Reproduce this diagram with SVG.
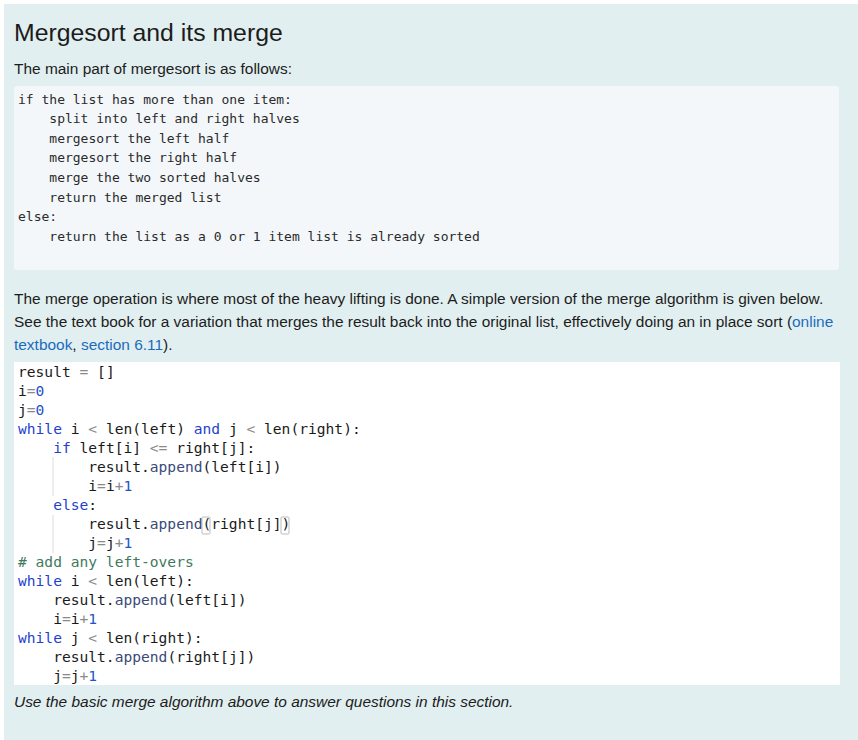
<svg xmlns="http://www.w3.org/2000/svg" width="858" height="740" viewBox="0 0 858 740">
<style>
.t{font-family:"Liberation Sans",Arial,sans-serif;font-size:15.45px;fill:#1c1c1c}
.m{font-family:"DejaVu Sans Mono",monospace;font-size:13px;fill:#2a2a2a;white-space:pre}
.c{font-family:"DejaVu Sans Mono",monospace;font-size:14.6px;fill:#1a1a1a;white-space:pre}
.m text,.c text{white-space:pre}
.k{fill:#1f3fd0}.n{fill:#1f55c8}.o{fill:#8a8a8a}.f{fill:#3a4a78}.g{fill:#3f7a5c}
.a{fill:#1a6bbf}
</style>
<rect x="0" y="0" width="858" height="740" fill="#ffffff"/>
<rect x="4" y="4" width="854" height="736" fill="#e2eff0"/>
<text x="14" y="41" class="t" style="font-size:24.8px">Mergesort and its merge</text>
<text x="14" y="74" class="t">The main part of mergesort is as follows:</text>
<rect x="14" y="86" width="825" height="184" rx="3" fill="#f3f7fa"/>
<g class="m">
<text x="18" y="104">if the list has more than one item:</text>
<text x="18" y="123">    split into left and right halves</text>
<text x="18" y="143">    mergesort the left half</text>
<text x="18" y="162">    mergesort the right half</text>
<text x="18" y="182">    merge the two sorted halves</text>
<text x="18" y="202">    return the merged list</text>
<text x="18" y="221">else:</text>
<text x="18" y="241">    return the list as a 0 or 1 item list is already sorted</text>
</g>
<text x="14" y="304" class="t">The merge operation is where most of the heavy lifting is done. A simple version of the merge algorithm is given below.</text>
<text x="14" y="327" class="t">See the text book for a variation that merges the result back into the original list, effectively doing an in place sort (<tspan class="a">online</tspan></text>
<text x="14" y="350" class="t"><tspan class="a">textbook</tspan>, <tspan class="a">section 6.11</tspan>).</text>
<rect x="14" y="362" width="826" height="323" fill="#ffffff"/>
<line x1="53" y1="457" x2="53" y2="496" stroke="#dddddd"/>
<line x1="53" y1="515" x2="53" y2="553" stroke="#dddddd"/>
<rect x="202" y="517" width="8" height="17" rx="1" fill="none" stroke="#bbbbbb"/>
<rect x="281" y="517" width="8" height="17" rx="1" fill="none" stroke="#bbbbbb"/>
<g class="c">
<text x="18" y="377">result <tspan class="o">=</tspan> []</text>
<text x="18" y="396">i<tspan class="o">=</tspan><tspan class="n">0</tspan></text>
<text x="18" y="415">j<tspan class="o">=</tspan><tspan class="n">0</tspan></text>
<text x="18" y="434"><tspan class="k">while</tspan> i <tspan class="o">&lt;</tspan> len(left) <tspan class="k">and</tspan> j <tspan class="o">&lt;</tspan> len(right):</text>
<text x="18" y="453">    <tspan class="k">if</tspan> left[i] <tspan class="o">&lt;=</tspan> right[j]:</text>
<text x="18" y="472">        result.<tspan class="f">append</tspan>(left[i])</text>
<text x="18" y="491">        i<tspan class="o">=</tspan>i<tspan class="o">+</tspan><tspan class="n">1</tspan></text>
<text x="18" y="510">    <tspan class="k">else</tspan>:</text>
<text x="18" y="529">        result.<tspan class="f">append</tspan>(right[j])</text>
<text x="18" y="548">        j<tspan class="o">=</tspan>j<tspan class="o">+</tspan><tspan class="n">1</tspan></text>
<text x="18" y="567" class="g"># add any left-overs</text>
<text x="18" y="586"><tspan class="k">while</tspan> i <tspan class="o">&lt;</tspan> len(left):</text>
<text x="18" y="605">    result.<tspan class="f">append</tspan>(left[i])</text>
<text x="18" y="624">    i<tspan class="o">=</tspan>i<tspan class="o">+</tspan><tspan class="n">1</tspan></text>
<text x="18" y="643"><tspan class="k">while</tspan> j <tspan class="o">&lt;</tspan> len(right):</text>
<text x="18" y="662">    result.<tspan class="f">append</tspan>(right[j])</text>
<text x="18" y="681">    j<tspan class="o">=</tspan>j<tspan class="o">+</tspan><tspan class="n">1</tspan></text>
</g>
<text x="14" y="707" class="t" font-style="italic">Use the basic merge algorithm above to answer questions in this section.</text>
</svg>
